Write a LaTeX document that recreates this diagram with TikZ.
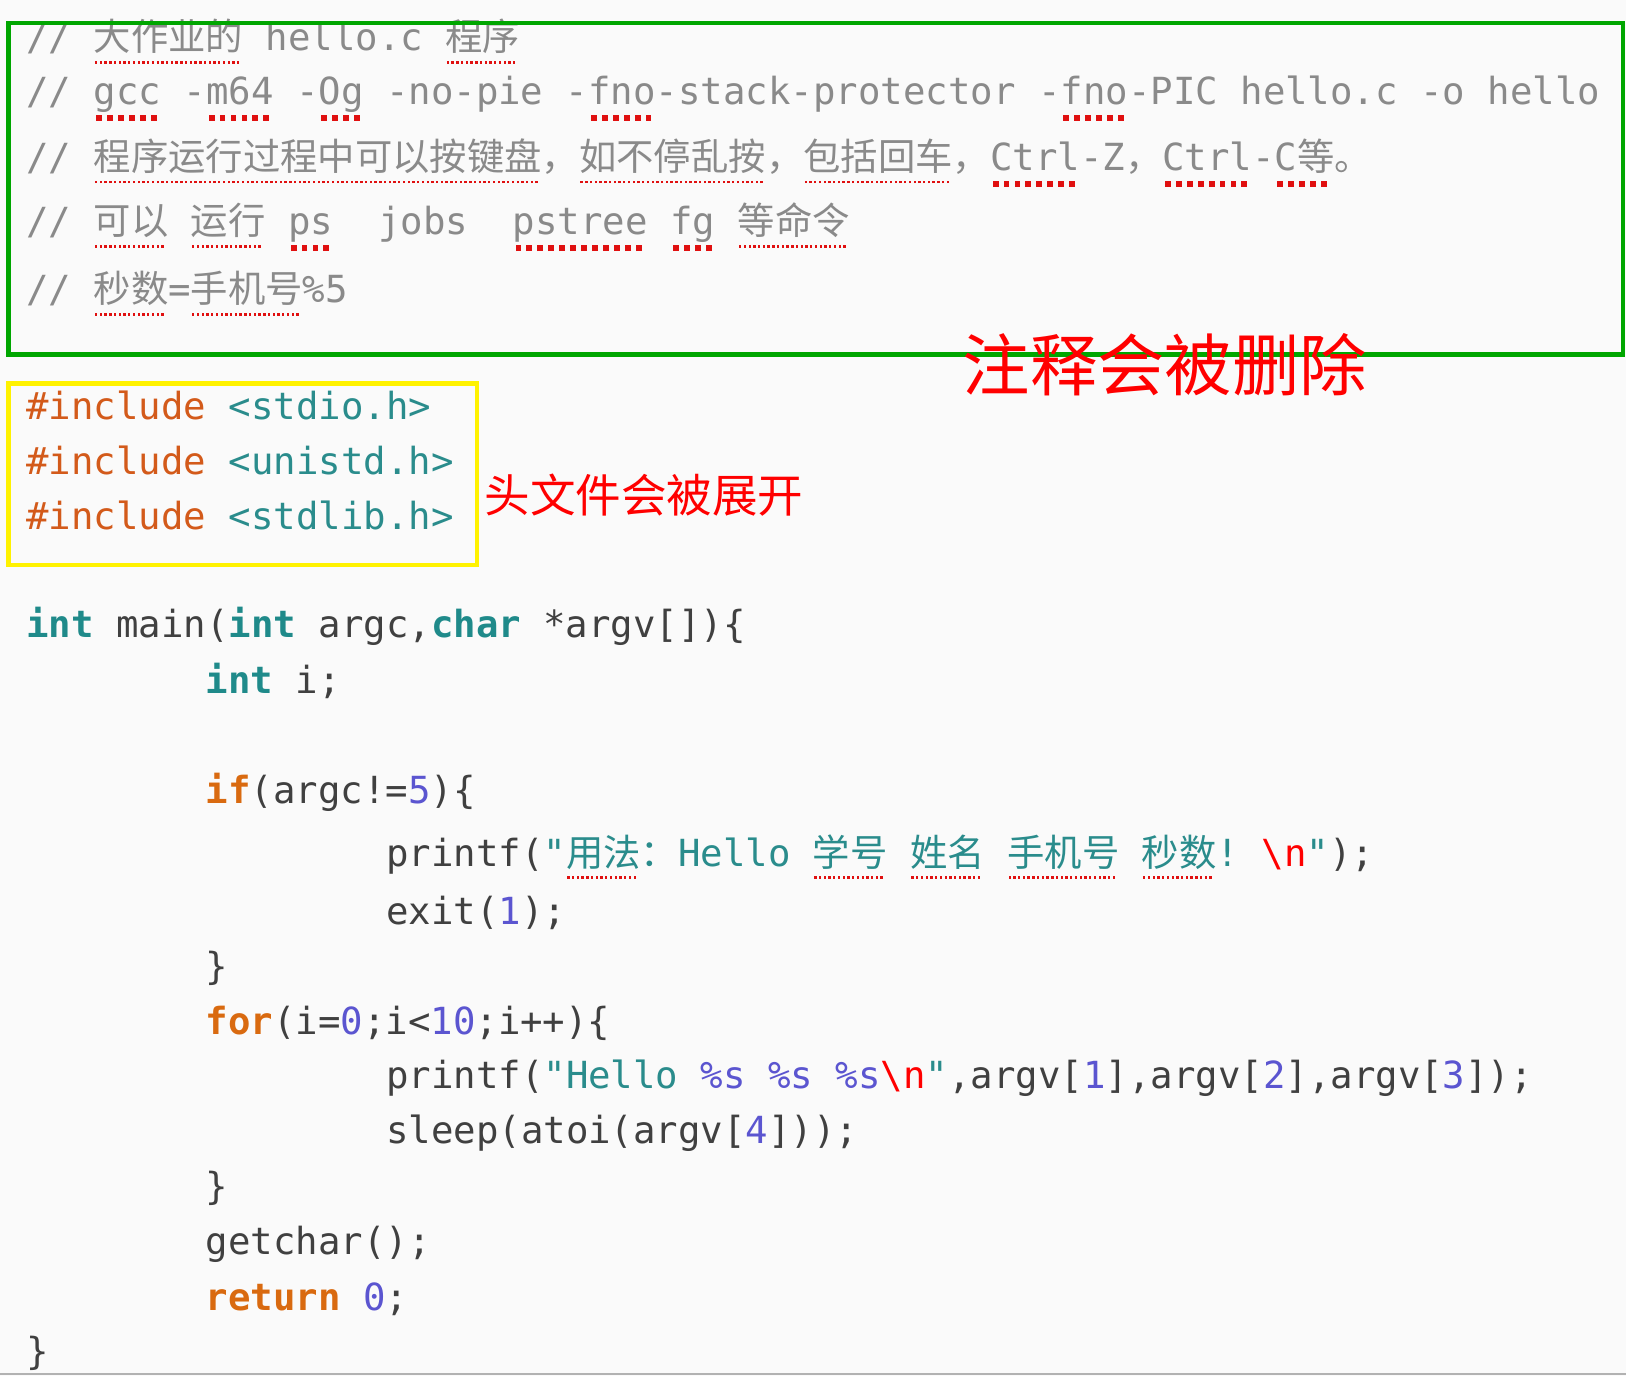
\documentclass[tikz,border=0pt]{standalone}
\usepackage{fontspec}
\setmonofont{DejaVu Sans Mono}
\newfontfamily\cjk{Noto Sans CJK SC}
\definecolor{cmt}{HTML}{8A8A8A}
\definecolor{inc}{HTML}{D35A1A}
\definecolor{tl}{HTML}{2A8C8C}
\definecolor{kw}{HTML}{1F8A8A}
\definecolor{kw2}{HTML}{D96A10}
\definecolor{num}{HTML}{5B55D0}
\definecolor{sqr}{HTML}{E01010}
\definecolor{txt}{HTML}{404040}
\newcommand\sq[1]{\setbox0\hbox{#1}\rlap{\raisebox{-9pt}{\textcolor{sqr}{\leaders\hbox to 6pt{\hss\rule{3.2pt}{3.2pt}\hss}\hskip\wd0}}}\box0\relax}
\newcommand\sd[1]{\setbox0\hbox{#1}\rlap{\raisebox{-7pt}{\textcolor{sqr}{\leaders\hbox to 2.6pt{\hss\rule{1.3pt}{1.3pt}\hss}\hskip\wd0}}}\box0\relax}
\newcommand\C[1]{{\cjk #1}}
\begin{document}
\begin{tikzpicture}[x=0.02cm,y=-0.02cm,
  ln/.style={anchor=west,inner sep=0,font=\ttfamily\fontsize{20.5}{24}\selectfont,text=txt},
  cmtline/.style={ln,text=cmt}]
\useasboundingbox[fill=black!2] (0,0) rectangle (1568,1327);
\draw[black!30,line width=1pt] (0,1325) -- (1568,1325);
% comments
\node[cmtline] (c1) at (25,40) {// \sd{\C{大作业的}} hello.c \sd{\C{程序}}};
\node[cmtline] (c2) at (25,95) {// \sq{gcc} -\sq{m64} -\sq{Og} -no-pie -\sq{fno}-stack-protector -\sq{fno}-PIC hello.c -o hello};
\node[cmtline] (c3) at (25,157) {// \sd{\C{程序运行过程中可以按键盘}}\C{，}\sd{\C{如不停乱按}}\C{，}\sd{\C{包括回车}}\C{，}\sq{Ctrl}-Z\C{，}\sq{Ctrl}-\sq{C\C{等}}\C{。}};
\node[cmtline] (c4) at (25,219) {// \sd{\C{可以}} \sd{\C{运行}} \sq{ps}~~jobs~~\sq{pstree} \sq{fg} \sd{\C{等命令}}};
\node[cmtline] (c5) at (25,283) {// \sd{\C{秒数}}=\sd{\C{手机号}}\%5};
\draw[green!65!black,line width=2.5pt] (8,22) rectangle (1565,342);
\node[anchor=west,inner sep=0,text=red,font=\cjk\fontsize{37}{40}\selectfont] (t1) at (928,352) {注释会被删除};
% includes
\node[ln] (i1) at (25,391) {\textcolor{inc}{\#include} \textcolor{tl}{<stdio.h>}};
\node[ln] (i2) at (25,444) {\textcolor{inc}{\#include} \textcolor{tl}{<unistd.h>}};
\node[ln] (i3) at (25,497) {\textcolor{inc}{\#include} \textcolor{tl}{<stdlib.h>}};
\draw[yellow,line width=2.5pt] (8,370) rectangle (460,545);
\node[anchor=west,inner sep=0,text=red,font=\cjk\fontsize{25}{28}\selectfont] (t2) at (467,477) {头文件会被展开};
% code
\node[ln] (l1) at (25,604) {\textcolor{kw}{\bfseries int} main(\textcolor{kw}{\bfseries int} argc,\textcolor{kw}{\bfseries char} *argv[])\{};
\node[ln] (l2) at (198,657) {\textcolor{kw}{\bfseries int} i;};
\node[ln] (l3) at (198,764) {\textcolor{kw2}{\bfseries if}(argc!=\textcolor{num}{5})\{};
\node[ln] (l4) at (372,826) {printf(\textcolor{tl}{"\sd{\C{用法}}\C{：}Hello \sd{\C{学号}} \sd{\C{姓名}} \sd{\C{手机号}} \sd{\C{秒数}}! }\textcolor{red}{\textbackslash n}\textcolor{tl}{"});};
\node[ln] (l5) at (372,880) {exit(\textcolor{num}{1});};
\node[ln] (l6) at (198,934) {\}};
\node[ln] (l7) at (198,987) {\textcolor{kw2}{\bfseries for}(i=\textcolor{num}{0};i<\textcolor{num}{10};i++)\{};
\node[ln] (l8) at (372,1040) {printf(\textcolor{tl}{"Hello \textcolor{num}{\%s} \textcolor{num}{\%s} \textcolor{num}{\%s}}\textcolor{red}{\textbackslash n}\textcolor{tl}{"},argv[\textcolor{num}{1}],argv[\textcolor{num}{2}],argv[\textcolor{num}{3}]);};
\node[ln] (l9) at (372,1093) {sleep(atoi(argv[\textcolor{num}{4}]));};
\node[ln] (l10) at (198,1146) {\}};
\node[ln] (l11) at (198,1200) {getchar();};
\node[ln] (l12) at (198,1253) {\textcolor{kw2}{\bfseries return} \textcolor{num}{0};};
\node[ln] (l13) at (25,1305) {\}};
\end{tikzpicture}
\end{document}
